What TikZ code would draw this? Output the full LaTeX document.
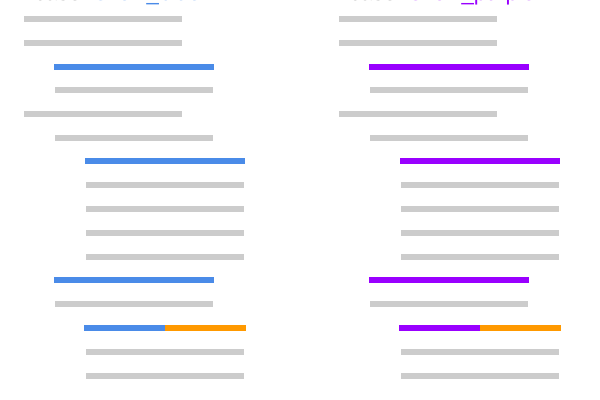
\documentclass[tikz,border=0pt]{standalone}
\usepackage{fontspec}
\setmainfont{Liberation Sans}
\definecolor{barGray}{HTML}{CCCCCC}
\definecolor{snowBlue}{HTML}{4A8BE8}
\definecolor{snowPurple}{HTML}{9900FF}
\definecolor{snowOrange}{HTML}{FF9900}
\definecolor{labelGray}{HTML}{555555}
\begin{document}
\begin{tikzpicture}[x=0.5pt,y=-0.5pt,
  bar/.style={line width=2.6pt},
  title/.style={anchor=base west,inner sep=0pt,font=\fontsize{11}{13}\selectfont}]
\useasboundingbox (0,0) rectangle (600,400);
\foreach \off/\col in {0/snowBlue,315/snowPurple}{
  \begin{scope}[xshift=\off*0.5pt]
  % rows: y / level / kind (g=gray, c=colour, h=half)
  \foreach \y/\l/\k in {19/0/g,43/0/g,67/1/c,90/1/g,114/0/g,138/1/g,161/2/c,185/2/g,209/2/g,233/2/g,257/2/g,280/1/c,304/1/g,328/2/h,352/2/g,376/2/g}{
    \pgfmathsetmacro{\xs}{23+31*\l}
    \pgfmathsetmacro{\xe}{\xs+160}
    \pgfmathsetmacro{\xm}{\xs+80}
    \if\k g
      \draw[bar,barGray] (\xs+1,\y) -- (\xe-1,\y);
    \else\if\k c
      \draw[bar,\col] (\xs,\y) -- (\xe,\y);
    \else
      \draw[bar,\col] (\xs-1,\y) -- (\xm,\y);
      \draw[bar,snowOrange] (\xm,\y) -- (\xe+1,\y);
    \fi\fi
  }
  \end{scope}
}
\node[title] (t1) at (33,1) {\textcolor{labelGray}{base: }\textcolor{snowBlue}{snow\_blue}};
\node[title] (t2) at (348,1) {\textcolor{labelGray}{base: }\textcolor{snowPurple}{snow\_purple}};
\end{tikzpicture}
\end{document}
